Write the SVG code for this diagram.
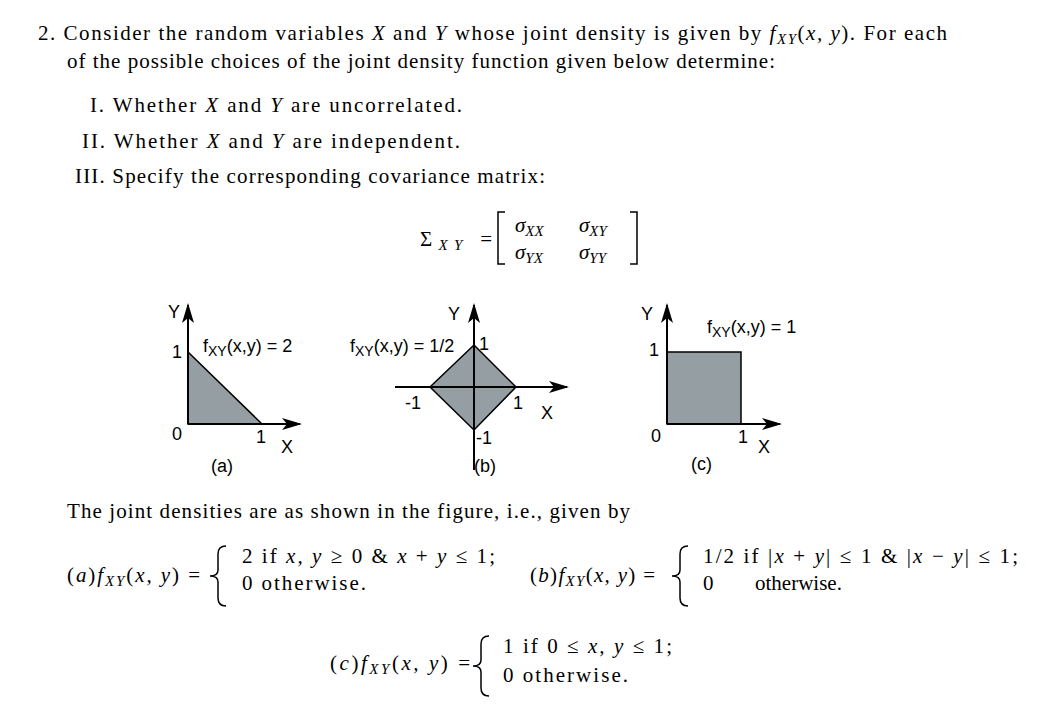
<svg xmlns="http://www.w3.org/2000/svg" width="1044" height="719" viewBox="0 0 1044 719">
<style>
.t{font-family:"Liberation Serif",serif;font-size:21px;fill:#000}
.i{font-style:italic}
.s{font-size:15px}
.f{font-family:"Liberation Sans",Arial,sans-serif;font-size:18px;fill:#000}
.fs{font-size:14px}
.ax{stroke:#000;stroke-width:2;fill:none}
.sh{fill:#959ea2;stroke:#000;stroke-width:1.5}
.br{fill:none;stroke:#000;stroke-width:1.5}
</style>
<defs><marker id="ar" viewBox="0 0 20 12" refX="18" refY="6" markerWidth="20" markerHeight="12" markerUnits="userSpaceOnUse" orient="auto"><path d="M0,0 L20,6 L0,12 L5,6 z" fill="#000"/></marker></defs>
<rect width="1044" height="719" fill="#fff"/>
<text class="t" x="38" y="40" textLength="909" lengthAdjust="spacing">2.  Consider the random variables <tspan class="i">X</tspan> and <tspan class="i">Y</tspan> whose joint density is given by <tspan class="i">f</tspan><tspan class="i s" dy="4">XY</tspan><tspan dy="-4">(</tspan><tspan class="i">x, y</tspan>).  For each</text>
<text class="t" x="67" y="68" textLength="708" lengthAdjust="spacing">of the possible choices of the joint density function given below determine:</text>
<text class="t" x="90" y="112" textLength="372" lengthAdjust="spacing">I.  Whether <tspan class="i">X</tspan> and <tspan class="i">Y</tspan> are uncorrelated.</text>
<text class="t" x="82" y="148" textLength="378" lengthAdjust="spacing">II.  Whether <tspan class="i">X</tspan> and <tspan class="i">Y</tspan> are independent.</text>
<text class="t" x="75" y="183" textLength="470" lengthAdjust="spacing">III.  Specify the corresponding covariance matrix:</text>
<text class="t" x="420" y="246" textLength="72" lengthAdjust="spacing">Σ<tspan class="i s" dy="4">XY</tspan><tspan dy="-4"> =</tspan></text>
<path class="br" d="M505,212 h-7 v52 h7 M630,212 h7 v52 h-7"/>
<text class="t i" x="515" y="232">σ<tspan class="s" dy="4">XX</tspan><tspan dy="-4" x="579">σ</tspan><tspan class="s" dy="4">XY</tspan></text>
<text class="t i" x="515" y="259">σ<tspan class="s" dy="4">YX</tspan><tspan dy="-4" x="579">σ</tspan><tspan class="s" dy="4">YY</tspan></text>

<g id="fig-a">
<polygon class="sh" points="188,352 188,424 262,424"/>
<line class="ax" x1="188" y1="424" x2="188" y2="305" marker-end="url(#ar)"/>
<line class="ax" x1="188" y1="424" x2="300" y2="424" marker-end="url(#ar)"/>
<text class="f" x="168" y="318">Y</text>
<text class="f" x="172" y="358">1</text>
<text class="f" x="172" y="440">0</text>
<text class="f" x="256" y="443">1</text>
<text class="f" x="281" y="453">X</text>
<text class="f" x="203" y="352">f<tspan class="fs" dy="4">XY</tspan><tspan dy="-4">(x,y) = 2</tspan></text>
<text class="f" x="211" y="472">(a)</text>
</g>
<g id="fig-b">
<polygon class="sh" points="474,345 516,387 474,430 430,387"/>
<line class="ax" x1="474" y1="470" x2="474" y2="305" marker-end="url(#ar)"/>
<line class="ax" x1="395" y1="387" x2="567" y2="387" marker-end="url(#ar)"/>
<text class="f" x="448" y="320">Y</text>
<text class="f" x="479" y="350">1</text>
<text class="f" x="405" y="409">-1</text>
<text class="f" x="513" y="409">1</text>
<text class="f" x="541" y="419">X</text>
<text class="f" x="476" y="444">-1</text>
<text class="f" x="350" y="352">f<tspan class="fs" dy="4">XY</tspan><tspan dy="-4">(x,y) = 1/2</tspan></text>
<text class="f" x="474" y="472">(b)</text>
</g>
<g id="fig-c">
<rect class="sh" x="667" y="352" width="74" height="72"/>
<line class="ax" x1="667" y1="424" x2="667" y2="305" marker-end="url(#ar)"/>
<line class="ax" x1="667" y1="424" x2="780" y2="424" marker-end="url(#ar)"/>
<text class="f" x="641" y="320">Y</text>
<text class="f" x="649" y="356">1</text>
<text class="f" x="651" y="442">0</text>
<text class="f" x="738" y="443">1</text>
<text class="f" x="758" y="453">X</text>
<text class="f" x="707" y="333">f<tspan class="fs" dy="4">XY</tspan><tspan dy="-4">(x,y) = 1</tspan></text>
<text class="f" x="691" y="470">(c)</text>
</g>

<text class="t" x="67" y="518" textLength="563" lengthAdjust="spacing">The joint densities are as shown in the figure, i.e., given by</text>

<text class="t" x="67" y="582" textLength="133" lengthAdjust="spacing">(<tspan class="i">a</tspan>)<tspan class="i">f</tspan><tspan class="i s" dy="4">XY</tspan><tspan dy="-4">(</tspan><tspan class="i">x, y</tspan>) =</text>
<path class="br" d="M226,546 q-8,0 -8,8 v16 q0,6 -8,6 q8,0 8,6 v16 q0,8 8,8"/>
<text class="t" x="242" y="563" textLength="253" lengthAdjust="spacing">2   if <tspan class="i">x, y</tspan> ≥ 0 &amp; <tspan class="i">x</tspan> + <tspan class="i">y</tspan> ≤ 1;</text>
<text class="t" x="242" y="590" textLength="124" lengthAdjust="spacing">0   otherwise.</text>

<text class="t" x="530" y="582" textLength="125" lengthAdjust="spacing">(<tspan class="i">b</tspan>)<tspan class="i">f</tspan><tspan class="i s" dy="4">XY</tspan><tspan dy="-4">(</tspan><tspan class="i">x, y</tspan>) =</text>
<path class="br" d="M688,546 q-8,0 -8,8 v16 q0,6 -8,6 q8,0 8,6 v16 q0,8 8,8"/>
<text class="t" x="703" y="563" textLength="315" lengthAdjust="spacing">1/2   if |<tspan class="i">x</tspan> + <tspan class="i">y</tspan>| ≤ 1 &amp; |<tspan class="i">x</tspan> − <tspan class="i">y</tspan>| ≤ 1;</text>
<text class="t" x="703" y="590">0<tspan x="755">otherwise.</tspan></text>

<text class="t" x="330" y="670" textLength="140" lengthAdjust="spacing">(<tspan class="i">c</tspan>)<tspan class="i">f</tspan><tspan class="i s" dy="4">XY</tspan><tspan dy="-4">(</tspan><tspan class="i">x, y</tspan>) =</text>
<path class="br" d="M489,636 q-8,0 -8,8 v16 q0,6 -8,6 q8,0 8,6 v16 q0,8 8,8"/>
<text class="t" x="503" y="653" textLength="169" lengthAdjust="spacing">1   if 0 ≤ <tspan class="i">x, y</tspan> ≤ 1;</text>
<text class="t" x="503" y="682" textLength="125" lengthAdjust="spacing">0   otherwise.</text>
</svg>
